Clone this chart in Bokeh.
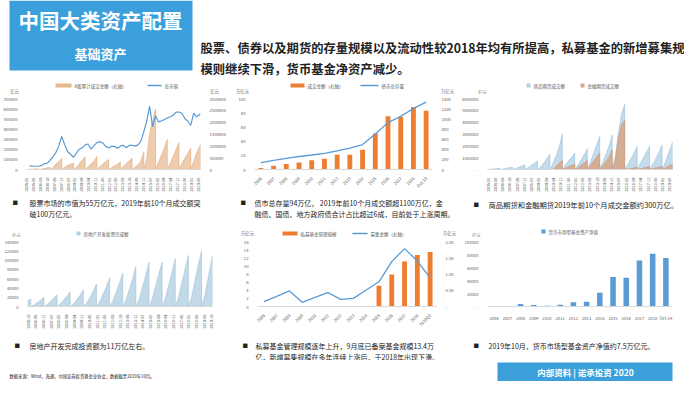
import math
from bokeh.plotting import figure
from bokeh.layouts import column, row
from bokeh.models import (Range1d, LinearAxis, FixedTicker, NumeralTickFormatter, FactorRange)
from bokeh.core.properties import value
from bokeh.embed import file_html
from bokeh.resources import INLINE

FONT = "Noto Sans CJK SC"
GREY = "#595959"
ORANGE = "#ed7d31"
BLUE = "#5b9bd5"
TAN = "#e8b78c"
FUT_BLUE = "#add0e4"
FUT_ORANGE = "#d9a583"
RE_BLUE = "#b3cfe1"
SLIDE_BLUE = "#3a9fdb"
TXT = "#222222"

# ---------------- data ----------------
# Chart 1: A-share total market value (left, 亿元) and cumulative turnover (right, 亿元)
stock_periods = [f"{y}-{m:02d}" for y in range(2005, 2020) for m in (3, 6, 9, 12)]
stock_periods[-1] = "2019-10"
stock_mktcap = [
    36000, 33000, 32000, 32000,
    38000, 55000, 62000, 89000,
    125000, 167000, 230000, 327000,
    247000, 178000, 150000, 121000,
    160000, 200000, 213000, 243000,
    251000, 200000, 235000, 265000,
    275000, 262000, 228000, 214000,
    228000, 228000, 210000, 230000,
    240000, 215000, 237000, 239000,
    230000, 243000, 277000, 372000,
    480000, 625000, 420000, 530000,
    470000, 480000, 492000, 508000,
    520000, 535000, 565000, 567000,
    555000, 500000, 478000, 434000,
    556000, 520000, 540000, 550000,
]
stock_turnover_cum = [
    6000, 15000, 24000, 31000,
    12000, 40000, 62000, 90000,
    70000, 230000, 330000, 460000,
    90000, 170000, 220000, 267000,
    80000, 240000, 400000, 535000,
    120000, 230000, 350000, 545000,
    120000, 230000, 330000, 421000,
    70000, 160000, 220000, 314000,
    120000, 240000, 360000, 468000,
    100000, 200000, 340000, 743000,
    460000, 1520000, 2050000, 2550000,
    300000, 600000, 900000, 1267000,
    250000, 550000, 850000, 1124000,
    260000, 480000, 680000, 901000,
    330000, 700000, 960000, 1060000,
]
date_ticks_a = list(range(0, 178, 7))
date_labels_a = [f"{2005 + m // 12}-{m % 12 + 1:02d}" for m in date_ticks_a]

# Chart 2: bond market
bond_years = ["2006", "2007", "2008", "2009", "2010", "2011", "2012", "2013",
              "2014", "2015", "2016", "2017", "2018", "Oct-19"]
bond_turnover = [30, 73, 110, 140, 183, 213, 292, 292, 390, 712, 1050, 1035, 1230, 1156]
bond_stock = [9.6, 13.0, 15.7, 18.3, 20.4, 22.6, 26.1, 30.0, 35.2, 50.0, 66.0, 74.8, 86.0, 94.8]

# Chart 3: futures cumulative turnover (亿元)
fut_periods = list(stock_periods)
fut_commodity = [
    22000, 48000, 75000, 100000,
    40000, 95000, 150000, 210000,
    80000, 180000, 290000, 410000,
    150000, 330000, 520000, 720000,
    210000, 520000, 900000, 1300000,
    520000, 870000, 1380000, 2220000,
    260000, 490000, 710000, 950000,
    200000, 470000, 710000, 992000,
    270000, 650000, 1000000, 1400000,
    290000, 620000, 950000, 1260000,
    350000, 400000, 900000, 1330000,
    380000, 810000, 1265000, 1758000,
    445000, 880000, 1295000, 1693000,
    380000, 785000, 1285000, 1809000,
    500000, 1020000, 1630000, 1860000,
]
fut_financial = [
    0, 0, 0, 0,
    0, 0, 0, 0,
    0, 0, 0, 0,
    0, 0, 0, 0,
    0, 0, 0, 0,
    0, 280000, 520000, 790000,
    120000, 230000, 340000, 450000,
    150000, 330000, 540000, 758000,
    330000, 700000, 1050000, 1400000,
    330000, 680000, 1050000, 1640000,
    800000, 2700000, 3800000, 4170000,
    40000, 90000, 135000, 182000,
    55000, 120000, 185000, 247000,
    70000, 135000, 195000, 261000,
    120000, 280000, 420000, 500000,
]

# Chart 4: real estate development investment, cumulative (亿元)
re_periods = ["2005-12"] + [f"{y}-{m:02d}" for y in range(2006, 2020) for m in (3, 6, 9, 12)]
re_periods[-1] = "2019-10"
re_invest = [
    15909,
    3200, 8500, 13700, 19423,
    4100, 11000, 17900, 25289,
    5300, 14200, 22100, 31203,
    5300, 14500, 24200, 36242,
    7700, 19600, 32100, 48259,
    10000, 26200, 42500, 61797,
    12000, 30900, 50000, 71804,
    13700, 36800, 59900, 86013,
    15300, 42000, 66600, 95036,
    16500, 43100, 70000, 95979,
    17700, 46500, 74000, 102581,
    19300, 50600, 80600, 109799,
    21300, 55500, 88900, 120264,
    23800, 61600, 98000, 109603,
]
date_ticks_b = list(range(9, 178, 7))
date_labels_b = [f"{2005 + m // 12}-{m % 12 + 1:02d}" for m in date_ticks_b]

# Chart 5: private funds
pf_years = ["2006", "2007", "2008", "2009", "2010", "2011", "2012", "2013",
            "2014", "2015", "2016", "2017", "2018", "2019Q3"]
pf_bar_years = ["2015", "2016", "2017", "2018", "2019Q3"]
pf_scale = [5.1, 7.9, 11.1, 12.7, 13.4]
pf_raised = [0.15, 0.31, 0.48, 0.13, 0.28, 0.43, 0.22, 0.25, 0.51, 0.76, 1.38, 1.78, 1.40, 0.88]

# Chart 6: money market funds NAV (亿元)
mmf_years = ["2006", "2007", "2008", "2009", "2010", "2011", "2012", "2013",
             "2014", "2015", "2016", "2017", "2018", "Oct-19"]
mmf_nav = [300, 500, 4000, 2200, 1300, 2700, 6700, 7500, 21300, 45300, 44400, 70700, 81000, 74600]


# ---------------- helpers ----------------
def month_index(s):
    y, m = s.split("-")
    return (int(y) - 2005) * 12 + int(m) - 1


def period_ends(periods):
    return [month_index(p) + 0.5 for p in periods]


def year_patches(periods, values):
    """One sawtooth polygon per calendar year: cumulative values reset every January."""
    groups = {}
    for p, v in zip(periods, values):
        groups.setdefault(p[:4], []).append((month_index(p) + 0.5, v))
    xs, ys = [], []
    for yr, pts in groups.items():
        x0 = (int(yr) - 2005) * 12 - 0.5
        xs.append([x0] + [x for x, _ in pts] + [pts[-1][0]])
        ys.append([0] + [v for _, v in pts] + [0])
    return xs, ys


def base_fig(h, xr, yr, ml, mr, mt, mb):
    p = figure(width=228, height=h, x_range=xr, y_range=yr, output_backend="svg",
               toolbar_location=None, min_border_left=ml, min_border_right=mr,
               min_border_top=mt, min_border_bottom=mb)
    p.grid.visible = False
    p.outline_line_color = None
    p.border_fill_color = "white"
    p.background_fill_color = "white"
    return p


def style_axis(ax, size="4.2px"):
    ax.major_label_text_font = FONT
    ax.major_label_text_font_size = size
    ax.major_label_text_color = GREY
    ax.axis_line_color = None
    ax.major_tick_line_color = None
    ax.minor_tick_line_color = None
    ax.major_label_standoff = 3


def style_x(ax, size="4.2px"):
    style_axis(ax, size)
    ax.axis_line_color = "#d9d9d9"
    ax.major_label_standoff = 2


def canvas(h):
    f = figure(width=684, height=h, x_range=Range1d(0, 684), y_range=Range1d(0, h),
               output_backend="svg", toolbar_location=None, min_border=0,
               x_axis_location=None, y_axis_location=None)
    f.grid.visible = False
    f.outline_line_color = None
    f.border_fill_color = "white"
    f.background_fill_color = "white"
    return f


def write(f, xs, ys, texts, size, color=TXT, bold=False, align="left"):
    f.text(x=xs, y=ys, text=texts, text_font=value(FONT), text_font_size=size,
           text_color=color, text_align=align, text_baseline="middle",
           text_font_style="bold" if bold else "normal")


def key_bar(f, x0, x1, y, h, color, label):
    f.quad(left=[x0], right=[x1], bottom=[y - h / 2], top=[y + h / 2],
           fill_color=color, line_color=None)
    write(f, [x1 + 3], [y], [label], "4.5px", GREY)


def key_line(f, x0, x1, y, color, label):
    f.line(x=[x0, x1], y=[y, y], line_color=color, line_width=1.3)
    write(f, [x1 + 3], [y], [label], "4.5px", GREY)


# ---------------- header ----------------
hdr = canvas(76)
hdr.quad(left=[9], right=[192], bottom=[6], top=[76], fill_color=SLIDE_BLUE, line_color=None)
write(hdr, [100], [57], ["中国大类资产配置"], "20.5px", "white", True, "center")
write(hdr, [100], [23], ["基础资产"], "13px", "white", True, "center")
write(hdr, [200, 200], [29, 8],
      ["股票、债券以及期货的存量规模以及流动性较2018年均有所提高，私募基金的新增募集规",
       "模则继续下滑，货币基金净资产减少。"], "12.3px", TXT, True)

# ---------------- legend / unit strip, top row ----------------
lg1 = canvas(18)
key_bar(lg1, 55, 71, 9, 4, TAN, "A股累计成交金额（右轴）")
key_line(lg1, 147, 161, 9, BLUE, "总市值")
key_bar(lg1, 290, 304, 9, 4, ORANGE, "成交金额（右轴）")
key_line(lg1, 360, 378, 9, BLUE, "债市总存量")
key_bar(lg1, 526, 530, 9, 4, FUT_BLUE, "商品期货成交额")
key_bar(lg1, 580, 584, 9, 4, FUT_ORANGE, "金融期货成交额")
write(lg1, [14, 214, 242, 447, 482], [4, 4, 4, 4, 3],
      ["亿元", "亿元", "万亿元", "万亿元", "亿元"], "4.3px", GREY, False, "center")

# ---------------- chart 1 ----------------
p1 = base_fig(100, Range1d(-0.5, 177.5), Range1d(0, 700000), 25, 23, 4, 20)
p1.extra_y_ranges = {"r": Range1d(0, 3000000)}
sx, sy = year_patches(stock_periods, stock_turnover_cum)
p1.patches(xs=sx, ys=sy, y_range_name="r", fill_color=TAN, fill_alpha=0.7,
           line_color="#d99a66", line_width=0.5)
p1.line(x=period_ends(stock_periods), y=stock_mktcap, line_color=BLUE, line_width=1.2)
p1.yaxis.ticker = FixedTicker(ticks=list(range(0, 700001, 100000)))
p1.yaxis.formatter = NumeralTickFormatter(format="0")
ax1r = LinearAxis(y_range_name="r", ticker=FixedTicker(ticks=list(range(0, 3000001, 500000))),
                  formatter=NumeralTickFormatter(format="0"))
p1.add_layout(ax1r, "right")
for a in p1.yaxis:
    style_axis(a)
p1.xaxis.ticker = FixedTicker(ticks=date_ticks_a)
p1.xaxis.major_label_overrides = dict(zip(date_ticks_a, date_labels_a))
p1.xaxis.major_label_orientation = math.pi / 2
style_x(p1.xaxis[0], "3.9px")

# ---------------- chart 2 ----------------
p2 = base_fig(100, FactorRange(*bond_years), Range1d(0, 100), 26, 24, 4, 20)
p2.extra_y_ranges = {"r": Range1d(0, 1400)}
p2.vbar(x=bond_years, top=bond_turnover, width=0.38, y_range_name="r",
        fill_color=ORANGE, line_color=None)
p2.line(x=bond_years, y=bond_stock, line_color=BLUE, line_width=1.3)
p2.yaxis.ticker = FixedTicker(ticks=list(range(0, 101, 20)))
ax2r = LinearAxis(y_range_name="r", ticker=FixedTicker(ticks=list(range(0, 1401, 200))))
p2.add_layout(ax2r, "right")
for a in p2.yaxis:
    style_axis(a)
p2.xaxis.major_label_orientation = math.pi / 4
style_x(p2.xaxis[0], "4.2px")

# ---------------- chart 3 ----------------
fut_total = [a + b for a, b in zip(fut_financial, fut_commodity)]
p3 = base_fig(100, Range1d(-0.5, 177.5), Range1d(0, 6000000), 31, 12, 4, 20)
tx, ty = year_patches(fut_periods, fut_total)
p3.patches(xs=tx, ys=ty, fill_color=FUT_BLUE, fill_alpha=0.75,
           line_color="#8fb8d2", line_width=0.5)
fx, fy = year_patches(fut_periods, fut_financial)
p3.patches(xs=fx, ys=fy, fill_color=FUT_ORANGE, fill_alpha=0.85,
           line_color="#c98f6a", line_width=0.5)
p3.yaxis.ticker = FixedTicker(ticks=list(range(0, 6000001, 1000000)))
p3.yaxis.formatter = NumeralTickFormatter(format="0")
p3.yaxis.major_label_overrides = {0: "-"}
style_axis(p3.yaxis[0])
p3.xaxis.ticker = FixedTicker(ticks=date_ticks_a)
p3.xaxis.major_label_overrides = dict(zip(date_ticks_a, date_labels_a))
p3.xaxis.major_label_orientation = math.pi / 2
style_x(p3.xaxis[0], "3.9px")

# ---------------- bullet texts, top row ----------------
t1 = canvas(24)
write(t1, [12, 240, 473], [16, 16, 14], ["■", "■", "■"], "5.5px")
write(t1, [29, 29], [16, 5], ["股票市场的市值为55万亿元，2019年前10个月成交额突", "破100万亿元。"], "7px")
write(t1, [254, 254], [16, 5], ["债市总存量94万亿，  2019年前10个月成交额超1100万亿，金",
                                "融债、国债、地方政府债合计占比超过6成，目前处于上涨周期。"], "7px")
write(t1, [488], [14], ["商品期货和金融期货2019年前10个月成交金额约300万亿。"], "7.3px")

# ---------------- legend / unit strip, bottom row ----------------
lg2 = canvas(19)
key_bar(lg2, 76, 80, 4, 4, RE_BLUE, "房地产开发投资完成额")
key_bar(lg2, 282, 297, 4, 4, ORANGE, "私募基金管理规模")
key_line(lg2, 352, 367, 4, BLUE, "募集金额（右轴）")
key_bar(lg2, 541, 545, 6, 4, BLUE, "货币市场型基金资产净值")
write(lg2, [16, 247, 449, 476], [3, 5, 5, 3],
      ["亿元", "万亿元", "万亿元", "亿元"], "4.3px", GREY, False, "center")

# ---------------- chart 4 ----------------
p4 = base_fig(95, Range1d(8.5, 177.5), Range1d(0, 140000), 27, 16, 4, 16)
ex, ey = year_patches(re_periods, re_invest)
p4.patches(xs=ex, ys=ey, fill_color=RE_BLUE, fill_alpha=0.8,
           line_color="#94b8d0", line_width=0.5)
p4.yaxis.ticker = FixedTicker(ticks=list(range(0, 140001, 20000)))
p4.yaxis.formatter = NumeralTickFormatter(format="0")
style_axis(p4.yaxis[0])
p4.xaxis.ticker = FixedTicker(ticks=date_ticks_b)
p4.xaxis.major_label_overrides = dict(zip(date_ticks_b, date_labels_b))
p4.xaxis.major_label_orientation = math.pi / 2
style_x(p4.xaxis[0], "3.9px")

# ---------------- chart 5 ----------------
p5 = base_fig(95, FactorRange(*pf_years), Range1d(0, 16), 29, 19, 4, 16)
p5.extra_y_ranges = {"r": Range1d(0, 2)}
p5.vbar(x=pf_bar_years, top=pf_scale, width=0.38, fill_color=ORANGE, line_color=None)
p5.line(x=pf_years, y=pf_raised, y_range_name="r", line_color=BLUE, line_width=1.3)
p5.yaxis.ticker = FixedTicker(ticks=list(range(0, 17, 2)))
ax5r = LinearAxis(y_range_name="r", ticker=FixedTicker(ticks=[0, 0.5, 1.0, 1.5, 2.0]),
                  formatter=NumeralTickFormatter(format="0.00"))
ax5r.major_label_overrides = {0: "-"}
p5.add_layout(ax5r, "right")
for a in p5.yaxis:
    style_axis(a)
p5.xaxis.major_label_orientation = math.pi / 4
style_x(p5.xaxis[0], "4.2px")

# ---------------- chart 6 ----------------
p6 = base_fig(95, FactorRange(*mmf_years), Range1d(0, 100000), 31, 12, 4, 15)
p6.vbar(x=mmf_years, top=mmf_nav, width=0.42, fill_color=BLUE, line_color=None)
p6.yaxis.ticker = FixedTicker(ticks=list(range(0, 100001, 20000)))
p6.yaxis.formatter = NumeralTickFormatter(format="0")
p6.yaxis.major_label_overrides = {0: "-"}
style_axis(p6.yaxis[0])
style_x(p6.xaxis[0], "4.2px")

# ---------------- bullet texts, bottom row ----------------
t2 = canvas(28)
write(t2, [14, 242, 473], [15, 15, 15], ["■", "■", "■"], "5.5px")
write(t2, [29], [15], ["房地产开发完成投资额为11万亿左右。"], "7px")
write(t2, [255, 255], [15, 4], ["私募基金管理规模逐年上升，9月底已备案基金规模13.4万",
                                "亿，新增募集规模在多年连续上涨后，于2018年出现下滑。"], "7px")
write(t2, [488], [15], ["2019年10月，货币市场型基金资产净值约7.5万亿元。"], "7px")

# ---------------- footer ----------------
ft = canvas(21)
write(ft, [9], [6], ["数据来源：Wind，海通，中国证券投资基金业协会，数据截至2019年10月。"], "4.3px")
ft.quad(left=[497], right=[672], bottom=[0], top=[19], fill_color=SLIDE_BLUE, line_color=None)
write(ft, [585], [9.5], ["内部资料 | 诺承投资 2020"], "8.5px", "white", True, "center")

layout = column(hdr, lg1, row(p1, p2, p3), t1, lg2, row(p4, p5, p6), t2, ft)

with open("out.html", "w") as fh:
    fh.write(file_html(layout, INLINE))
